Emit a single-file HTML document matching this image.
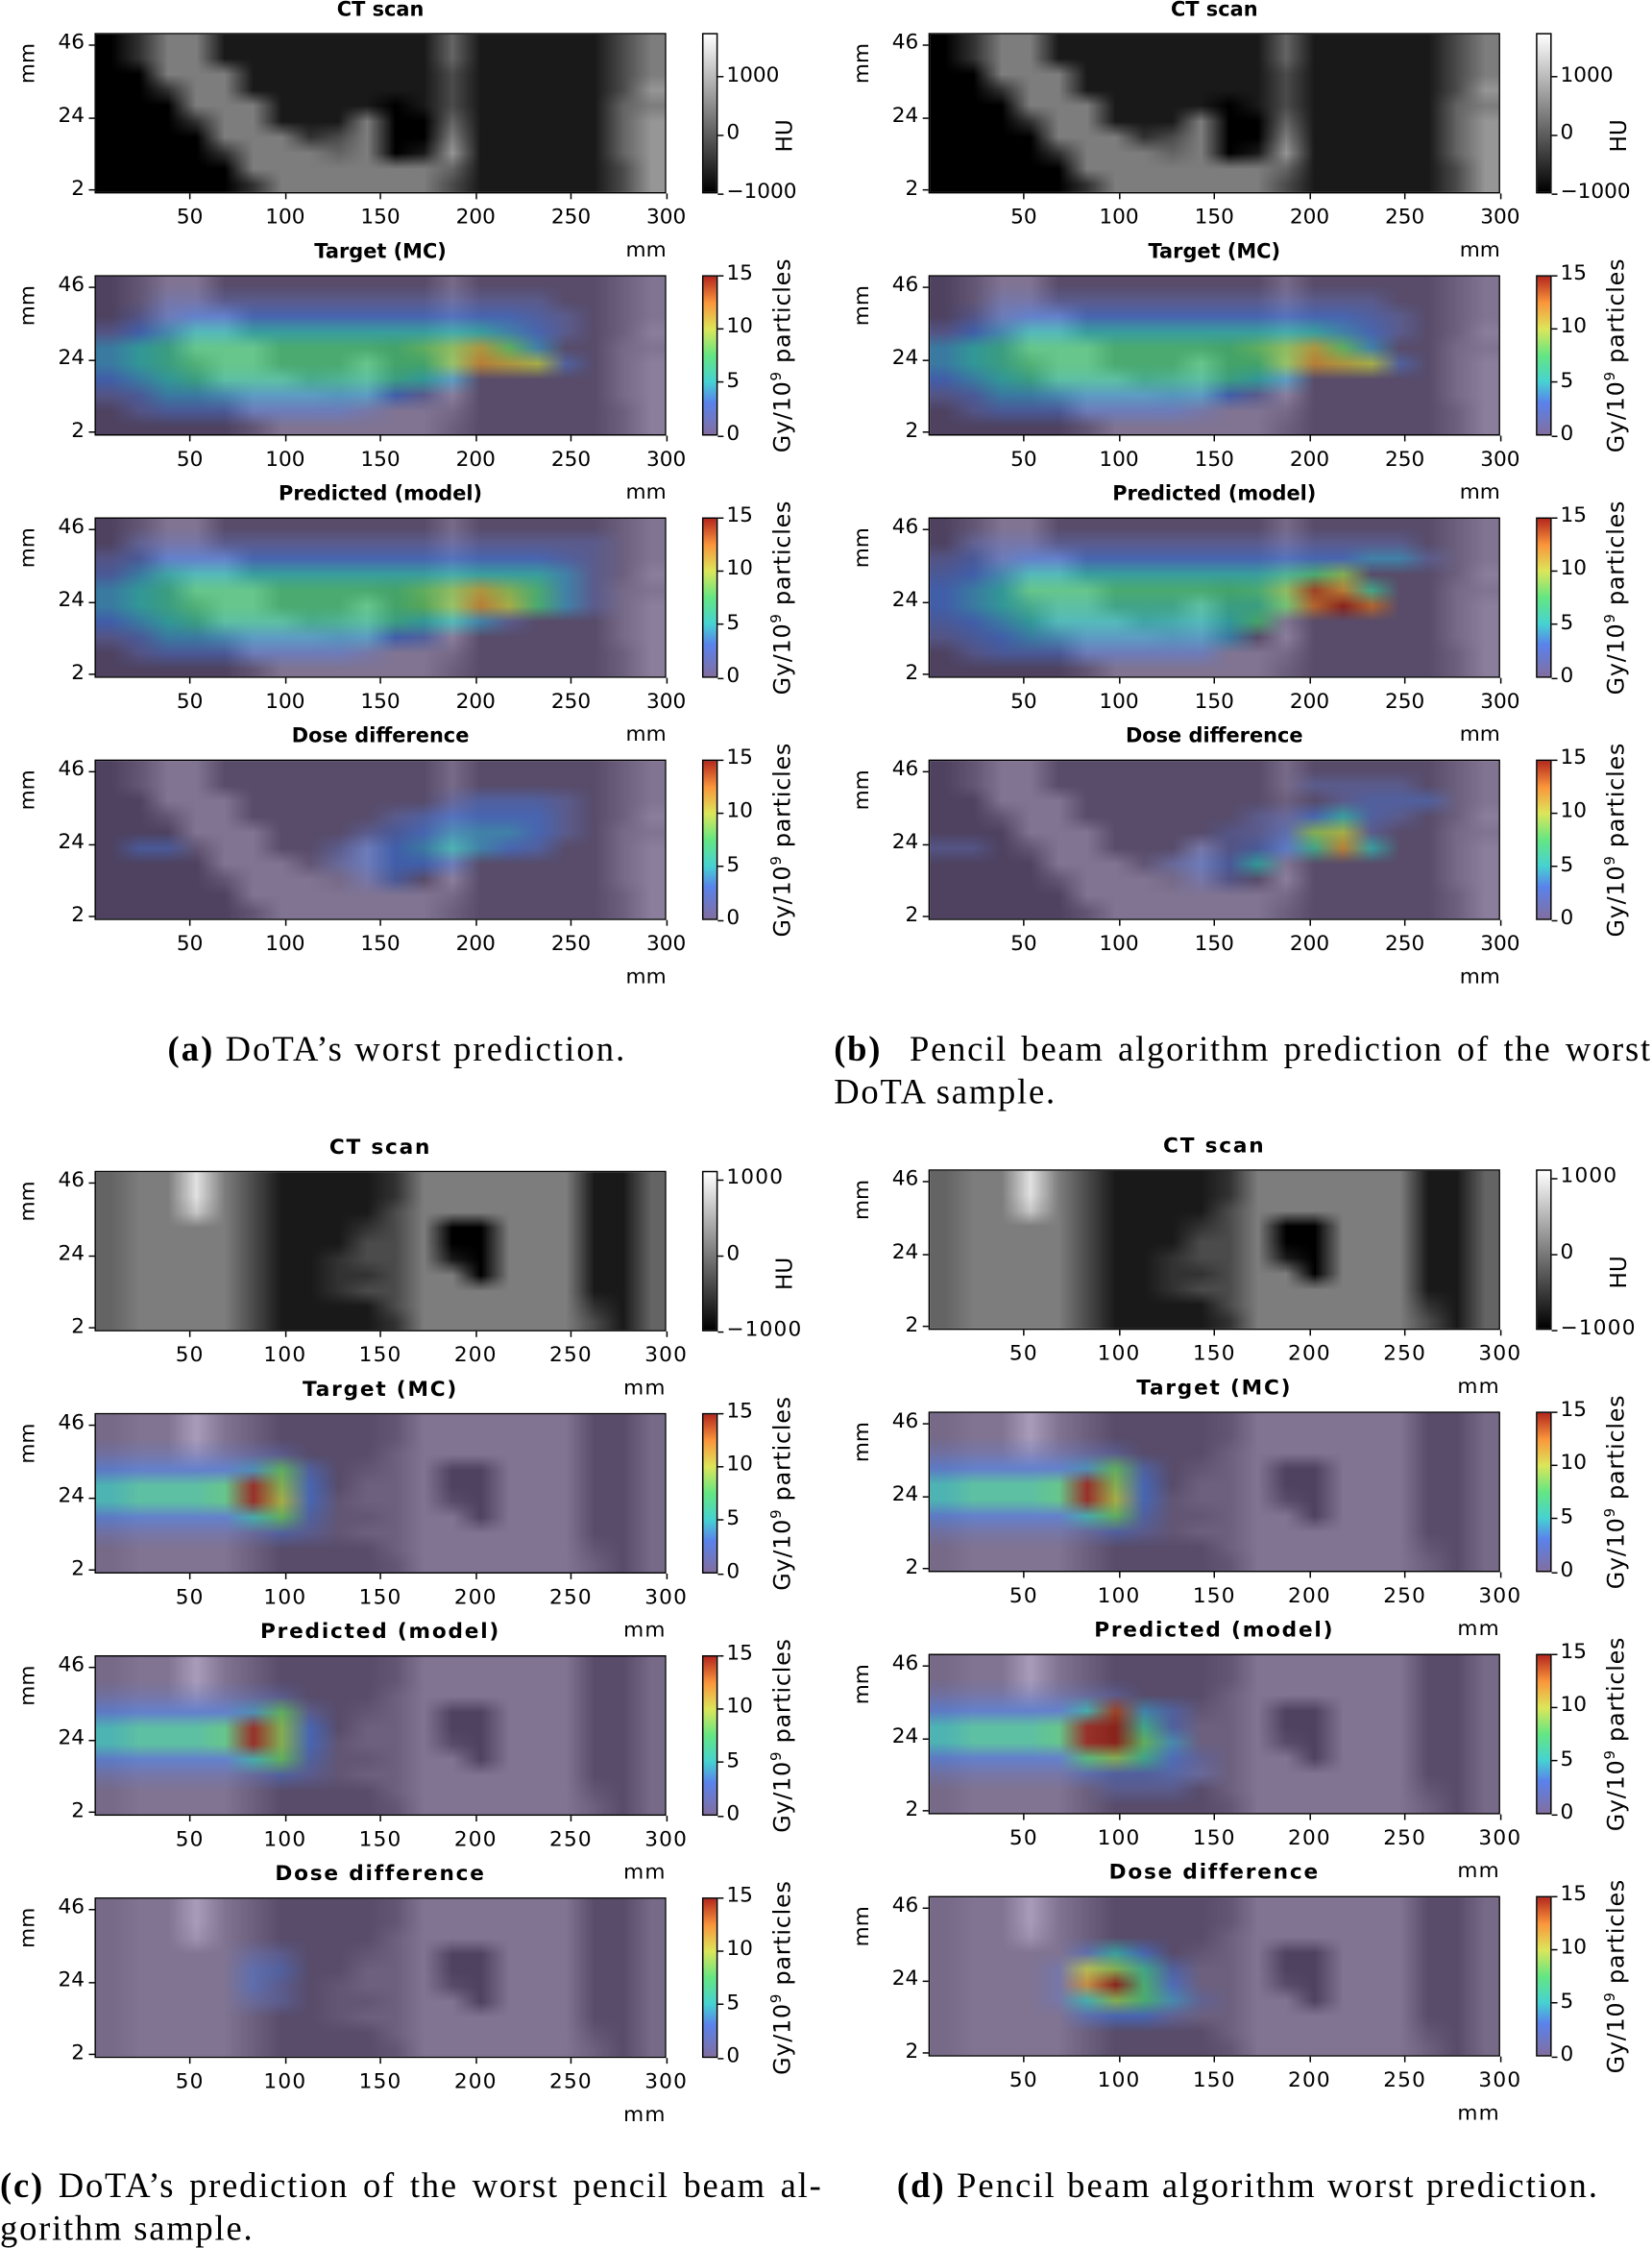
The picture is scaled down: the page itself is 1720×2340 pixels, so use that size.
<!DOCTYPE html>
<html><head><meta charset="utf-8">
<style>
html,body{margin:0;padding:0;background:#fff;}
#page{width:1720px;height:2340px;overflow:hidden;position:relative;background:#fff;}
#wrap{position:absolute;left:0;top:0;width:1153px;height:1568px;transform:scale(1.49176);transform-origin:0 0;font-family:"DejaVu Sans","Liberation Sans",sans-serif;color:#000;}
.abs{position:absolute;}
.ax{position:absolute;border:1px solid #000;box-sizing:border-box;}
.ax canvas{position:absolute;left:0;top:0;width:100%;height:100%;image-rendering:auto;}
.title{position:absolute;font-weight:bold;font-size:14px;text-align:center;white-space:nowrap;}
.tick{position:absolute;font-size:14.5px;white-space:nowrap;line-height:1;}
.tl{position:absolute;background:#000;}
.cap{position:absolute;font-family:"Liberation Serif",serif;font-size:24.5px;letter-spacing:1.2px;line-height:30px;hyphens:manual;}
.cap b{font-weight:bold;}
</style></head>
<body>
<div id="page">
<div id="wrap">
<div class="cap" style="left:117px;top:718px;letter-spacing:1.4px;"><b>(a)</b> DoTA’s worst prediction.</div>
<div class="cap" style="left:582px;top:718px;width:571px;text-align:justify;"><b>(b)</b>&nbsp; Pencil beam algorithm prediction of the worst DoTA sample.</div>
<div class="cap" style="left:0px;top:1511px;width:573px;text-align:justify;"><b>(c)</b> DoTA’s prediction of the worst pencil beam al&shy;gorithm sample.</div>
<div class="cap" style="left:626px;top:1511px;letter-spacing:1.4px;"><b>(d)</b> Pencil beam algorithm worst prediction.</div>
</div>
</div>
<script>
// ---- data (coarse 20 cols x 10 rows grids; col = 15 mm, row from top) ----
const xTicks=[50,100,150,200,250,300];
const yTicks=[46,24,2];
const huTicks=[1000,0,-1000];
const doseTicks=[15,10,5,0];
const ctUpper=[
"02551111111141111135",
"02551111111141111135",
"00555111111131111135",
"00255111111131111136",
"00055511110131111145",
"00025511150041111146",
"00005552350051111146",
"00002555450161111146",
"00000555555541111136",
"00000255555531111136"];
const ctLower=[
"45595311112555555114",
"45595311112555555114",
"45585311113555555114",
"45555311123500555114",
"45555311133500555114",
"45555311233510555114",
"45555311223550555114",
"45555311233555555114",
"45555311113555555214",
"45555311112555555314"];
const doseTargetA=[
"0",
"00111111111111110000",
"01233333333333321000",
"13455555555555431000",
"4567777777789b840000",
"4567777777779cba2000",
"34566666666540000000",
"12444444443100000000",
"01222222210000000000",
"0"];
const dosePredA=[
"0",
"01111111111111111100",
"12333333333333332100",
"24555555555555554100",
"4567777777789b974100",
"4567777777789ca74100",
"34566666666554100000",
"12444444443200000000",
"01222222210000000000",
"0"];
const doseDiffA=[
"0","0",
"00000000000012221000",
"00000000001233331000",
"00000000012344431000",
"02200000123454320000",
"00000000123320000000",
"00000000012000000000",
"0","0"];
const dosePredB=[
"0",
"01111111111111111000",
"12233333333333344100",
"23455555555567900000",
"3457777777779ec60000",
"3456666666668dfd0000",
"23455555555700000000",
"12344444444000000000",
"01222222220000000000",
"0"];
const doseDiffB=[
"0",
"00000000000001111000",
"00000000000000122200",
"00000000000113521000",
"00000000001129a10000",
"11000000011236c50000",
"00000000122500000000",
"00000000011000000000",
"0","0"];
const doseTargetC=[
"0","0",
"11111110",
"33333482",
"56667f93",
"56667fa3",
"33333582",
"11111121",
"0","0"];
const dosePredC=[
"0","0",
"11111110",
"33333481",
"56667f93",
"56667f93",
"33333582",
"11111121",
"0","0"];
const doseDiffC=[
"0","0","0",
"000001100",
"000002200",
"000002100",
"000001100",
"0","0","0"];
const dosePredD=[
"0","0",
"111111100",
"333335e42",
"56667ff620",
"56667ff840",
"3333379631",
"1111122221",
"0000001110",
"0"];
const doseDiffD=[
"0","0","0",
"000002530",
"00001a962",
"00001cf73",
"0000159741",
"000002331",
"0","0"];

// ---- colormap ----
const cmStops=[[0,[130,110,160]],[3,[90,130,235]],[5,[70,210,210]],[7.5,[100,230,130]],[10,[220,230,90]],[12.5,[250,150,60]],[15,[180,40,30]]];
function cmap(v){
  for(let i=1;i<cmStops.length;i++){
    if(v<=cmStops[i][0]){const a=cmStops[i-1],b=cmStops[i];const t=(v-a[0])/(b[0]-a[0]);
      return a[1].map((c,k)=>Math.round(c+(b[1][k]-c)*t));}
  }
  return cmStops[cmStops.length-1][1];
}
const COLS=20,ROWS=10;
const W=399,H=112;
function xScale(mm){return mm*W/300;}
function yScale(mm){return (49.5-mm)*H/48.4;}

const wrap=document.getElementById('wrap');
function el(cls,parent){const e=document.createElement('div');e.className=cls;(parent||wrap).appendChild(e);return e;}

function drawHeat(cv,ct,dose){
  cv.width=COLS;cv.height=ROWS;
  const ctx=cv.getContext('2d');const img=ctx.createImageData(COLS,ROWS);
  for(let r=0;r<ROWS;r++){
    const crow=ct[r];const drow=dose?dose[r].padEnd(COLS,'0'):null;
    for(let c=0;c<COLS;c++){
      const g=parseInt(crow[c],16)*25;
      let px=[g,g,g];
      if(drow){const d=parseInt(drow[c],16);const col=cmap(d);const a=d>0?0.72:0.6;px=col.map(v=>Math.round(a*v+(1-a)*g));}
      const i=(r*COLS+c)*4;img.data[i]=px[0];img.data[i+1]=px[1];img.data[i+2]=px[2];img.data[i+3]=255;
    }
  }
  ctx.putImageData(img,0,0);
}

function panel(x0,top,title,ct,dose,showMm,key,lower){
  const t=el('title');t.textContent=title;
  
  
  t.style.left=(x0)+'px';t.style.width=W+'px';t.style.top=(top-24)+'px';
  if(lower){t.style.fontSize='14.5px';t.style.letterSpacing='1.2px';}
  const ax=el('ax');ax.style.left=x0+'px';ax.style.top=top+'px';ax.style.width=W+'px';ax.style.height=H+'px';
  
  
  const cv=document.createElement('canvas');ax.appendChild(cv);drawHeat(cv,ct,dose);
  const ls=lower?'0.8px':'0px';
  xTicks.forEach(v=>{
    const l=el('tl');l.style.left=(x0+xScale(v)-0.5)+'px';l.style.top=(top+H)+'px';l.style.width='1px';l.style.height='4px';
    const s=el('tick');s.textContent=v;s.style.left=(x0+xScale(v)-25)+'px';s.style.width='50px';s.style.textAlign='center';s.style.top=(top+H+10)+'px';s.style.letterSpacing=ls;
    
    
  });
  yTicks.forEach(v=>{
    const l=el('tl');l.style.left=(x0-4)+'px';l.style.top=(top+yScale(v)-0.5)+'px';l.style.width='4px';l.style.height='1px';
    const s=el('tick');s.textContent=v;s.style.left=(x0-42)+'px';s.style.width='35px';s.style.textAlign='right';s.style.top=(top+yScale(v)-8)+'px';
    
    
  });
  const yl=el('tick');yl.textContent='mm';yl.style.left=(x0-60)+'px';yl.style.top=(top+14)+'px';yl.style.transform='rotate(-90deg)';
  
  
  if(showMm){const m=el('tick');m.textContent='mm';m.style.left=(x0+W-44)+'px';m.style.width='44px';m.style.textAlign='right';m.style.top=(top+H+33)+'px';m.style.letterSpacing=ls;
    
    }
  // colorbar
  const cbx=x0+W+25;
  const cb=el('ax');cb.style.left=cbx+'px';cb.style.top=top+'px';cb.style.width='11px';cb.style.height=H+'px';
  
  
  if(!dose){
    const topV=lower?1115:1765;
    cb.style.background='linear-gradient(to top,#000,#fff)';
    huTicks.forEach(v=>{const yy=top+H-(v+1000)/(topV+1000)*H;
      const l=el('tl');l.style.left=(cbx+11)+'px';l.style.top=(yy-0.5)+'px';l.style.width='4px';l.style.height='1px';
      const s=el('tick');s.textContent=v<0?'\u22121000':v;s.style.left=(cbx+17)+'px';s.style.top=(yy-8)+'px';s.style.letterSpacing=ls;
      
      });
    const hl=el('tick');hl.textContent='HU';hl.style.left=(cbx+47)+'px';hl.style.top=(top+H/2+8)+'px';hl.style.transform='rotate(-90deg)';hl.style.fontSize='15.5px';
    
    
  }else{
    const stops=[];for(let v=0;v<=15;v+=0.5){const c=cmap(v);stops.push('rgb('+c.join(',')+') '+(v/15*100).toFixed(1)+'%');}
    cb.style.background='linear-gradient(to top,'+stops.join(',')+')';
    doseTicks.forEach(v=>{const yy=top+H-v/15*H;
      const l=el('tl');l.style.left=(cbx+11)+'px';l.style.top=(yy-0.5)+'px';l.style.width='4px';l.style.height='1px';
      const s=el('tick');s.textContent=v;s.style.left=(cbx+17)+'px';s.style.top=(yy-8)+'px';
      
      });
    const gl=el('tick');gl.innerHTML='Gy/10<sup style="font-size:10px">9</sup> particles';gl.style.width='140px';gl.style.textAlign='center';gl.style.fontSize='16px';gl.style.letterSpacing='0.5px';
    gl.style.top=(top+H/2-9)+'px';gl.style.left=(cbx+57-70)+'px';gl.style.transformOrigin='70px 9px';gl.style.transform='rotate(-90deg)';
    
    
  }
}
const titles=['CT scan','Target (MC)','Predicted (model)','Dose difference'];
const sets=[
 {x:66,tops:[23,192,361,530],ct:ctUpper,d:[null,doseTargetA,dosePredA,doseDiffA],k:'a',lo:false},
 {x:648,tops:[23,192,361,530],ct:ctUpper,d:[null,doseTargetA,dosePredB,doseDiffB],k:'b',lo:false},
 {x:66,tops:[817,986,1155,1324],ct:ctLower,d:[null,doseTargetC,dosePredC,doseDiffC],k:'c',lo:true},
 {x:648,tops:[816,985,1154,1323],ct:ctLower,d:[null,doseTargetC,dosePredD,doseDiffD],k:'d',lo:true}];
sets.forEach(s=>{s.tops.forEach((t,i)=>{panel(s.x,t,titles[i],s.ct,s.d[i],true,'panel-'+s.k+'-row'+i,s.lo);});});
</script>
</body></html>
